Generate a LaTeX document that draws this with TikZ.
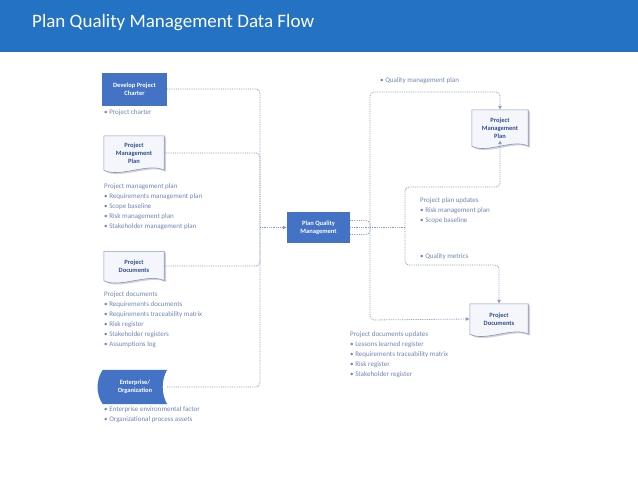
\documentclass[tikz,border=0pt]{standalone}
\usepackage{fontspec}
\setmainfont{Carlito}
\usetikzlibrary{arrows.meta}
\definecolor{bar}{HTML}{2372C4}
\definecolor{box}{HTML}{4472C4}
\definecolor{txt}{HTML}{6F86B8}
\definecolor{dk}{HTML}{2F4F8F}
\definecolor{ln}{HTML}{8797C0}
\definecolor{docfill}{HTML}{F4F6FB}
\tikzset{
  proc/.style={fill=box,text=white,font=\bfseries\fontsize{6.5}{8}\selectfont,align=center,inner sep=0pt},
  doc/.style={inner sep=0pt,align=center,text=dk,font=\bfseries\fontsize{6.5}{8}\selectfont},
  lst/.style={anchor=north west,text=txt,font=\fontsize{7}{10}\selectfont,align=left,inner sep=0pt},
  flow/.style={draw=ln,densely dotted,line width=0.8pt,rounded corners=4pt},
  arr/.style={flow,-{Latex[length=4pt,width=4pt]}},
}
\newcommand{\docshape}[1]{%
  \fill[gray!35] ([shift={(2,1.5)}]#1.north west) -- ([shift={(2,1.5)}]#1.north east) -- ([shift={(2,1.5)}]#1.south east)
    .. controls +(-0.25*60,-8) and +(0.25*60,8) .. ([shift={(2,1.5)}]#1.south west) -- cycle;
  \draw[ln,fill=docfill,line width=0.6pt] (#1.north west) -- (#1.north east) -- (#1.south east)
    .. controls +(-15,-8) and +(15,8) .. (#1.south west) -- cycle;
  \node[doc] at (#1.center) {\csname doctext#1\endcsname};}
\begin{document}
\begin{tikzpicture}[x=1pt,y=-1pt]
\useasboundingbox (0,0) rectangle (638,479);
\fill[white] (0,0) rectangle (638,479);
\fill[bar] (0,0) rectangle (638,52);
\node[anchor=west,text=white,font=\fontsize{19}{22}\selectfont,inner sep=0pt] (title) at (32,23) {Plan Quality Management Data Flow};

% left inputs
\node[proc,minimum width=65pt,minimum height=33pt] (dpc) at (134.5,89) {Develop Project\\Charter};
\node[lst] (l1) at (104,109) {• Project charter};

\node[minimum width=60pt,minimum height=34pt,inner sep=0pt] (pmp) at (134,153) {};
\expandafter\def\csname doctextpmp\endcsname{Project\\Management\\Plan}
\docshape{pmp}
\node[lst] (l2) at (104,183) {Project management plan\\• Requirements management plan\\• Scope baseline\\• Risk management plan\\• Stakeholder management plan};

\node[minimum width=60pt,minimum height=29pt,inner sep=0pt] (pd) at (134,266) {};
\expandafter\def\csname doctextpd\endcsname{Project\\Documents}
\docshape{pd}
\node[lst] (l3) at (104,291) {Project documents\\• Requirements documents\\• Requirements traceability matrix\\• Risk register\\• Stakeholder registers\\• Assumptions log};

\node[minimum width=64pt,minimum height=34pt,inner sep=0pt] (eo) at (135,387) {};
\fill[box] (eo.north west) -- (eo.north east) .. controls +(-6,10) and +(-6,-10) .. (eo.south east)
  -- (eo.south west) .. controls +(-7,-10) and +(-7,10) .. (eo.north west) -- cycle;
\node[proc] at (eo.center) {Enterprise/\\Organization};
\node[lst] (l4) at (104,406) {• Enterprise environmental factor\\• Organizational process assets};

% center
\node[proc,minimum width=63pt,minimum height=31pt] (pqm) at (318.5,227.5) {Plan Quality\\Management};

\coordinate (jt) at (260,227.5);
\draw[flow] (dpc.east) -| (jt);
\draw[flow] (pmp.east) -| (jt);
\draw[flow] (pd.east) -| (jt);
\draw[flow] (eo.east) -| (jt);
\draw[arr] (jt) -- (pqm.west);

% right outputs
\node[minimum width=56pt,minimum height=36pt,inner sep=0pt] (pmp2) at (500,128) {};
\expandafter\def\csname doctextpmpb\endcsname{}
\def\doctextpmp{Project\\Management\\Plan}
\docshape{pmp2}
\node[doc] at (pmp2.center) {Project\\Management\\Plan};
\node[minimum width=58pt,minimum height=30pt,inner sep=0pt] (pd2) at (499,319) {};
\docshape{pd2}
\node[doc] at (pd2.center) {Project\\Documents};

\coordinate (a1) at ([yshift=-7]pqm.east);
\coordinate (a2) at (pqm.east);
\coordinate (a3) at ([yshift=7]pqm.east);
\coordinate (br) at (405,227.5);
\draw[arr] (a1) -| (370,92) -| (pmp2.north);
\draw[flow] (a2) -- (br);
\draw[arr] (br) |- (500,187) -- ([yshift=6]pmp2.south);
\draw[arr] (br) |- (499,265) -- (pd2.north);
\draw[arr] (a3) -| (370,320) -- (pd2.west);

\node[lst] (r1) at (380,77) {• Quality management plan};
\node[lst] (r2) at (420,197) {Project plan updates\\• Risk management plan\\• Scope baseline};
\node[lst] (r3) at (420,253) {• Quality metrics};
\node[lst] (r4) at (350,331) {Project documents updates\\• Lessons learned register\\• Requirements traceability matrix\\• Risk register\\• Stakeholder register};
\end{tikzpicture}
\end{document}
